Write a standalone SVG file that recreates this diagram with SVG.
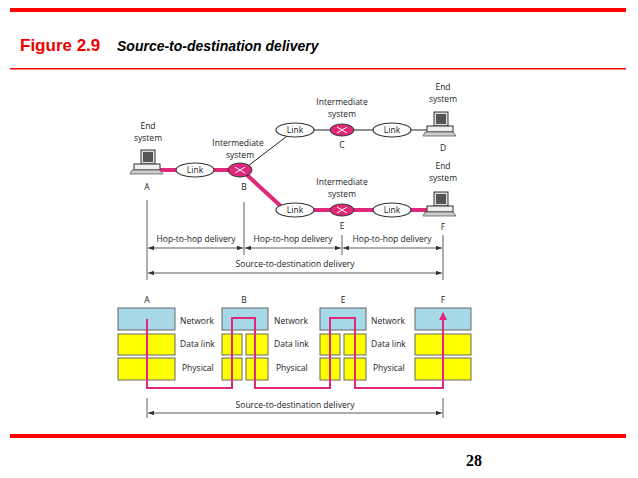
<svg xmlns="http://www.w3.org/2000/svg" width="638" height="478" viewBox="0 0 638 478">
<style>
text{font-family:"Open Sans","Liberation Sans",sans-serif;font-size:8.5px;fill:#222}
.m{text-anchor:middle}
.lk{fill:#fff;stroke:#333;stroke-width:1.2}
.rt{fill:#e0287a;stroke:#333;stroke-width:1}
.net{fill:#a6d8e8;stroke:#666}
.yl{fill:#ffff00;stroke:#666}
.dim{stroke:#333;stroke-width:0.8;fill:none}
#connectors path{fill:none}
</style>
<defs>
<marker id="ah" viewBox="0 0 8 6" refX="8" refY="3" markerWidth="8" markerHeight="6" orient="auto-start-reverse"><path d="M0,0L8,3L0,6z" fill="#333"/></marker>
<marker id="mh" viewBox="0 0 8 8" refX="7" refY="4" markerWidth="4" markerHeight="4" orient="auto"><path d="M0,0L8,4L0,8z" fill="#e0287a"/></marker>
<g id="pc"><rect x="-6" y="-22" width="14" height="14" fill="#ddd" stroke="#333"/><rect x="-4" y="-20" width="10" height="10" fill="#555"/><rect x="-13" y="-8" width="26" height="6" fill="#eee" stroke="#333"/><path d="M-15,-2h28l3,4h-33z" fill="#ccc" stroke="#333" stroke-width="0.6"/></g>
<g id="rx"><path d="M-5,-3L5,3M-5,3L5,-3" stroke="#fff" stroke-width="1"/></g>
</defs>
<rect width="638" height="478" fill="#fff"/>
<rect x="10" y="8" width="616" height="4" fill="#f00"/>
<rect x="10" y="68" width="616" height="1.5" fill="#f00"/>
<rect x="10" y="434" width="616" height="4" fill="#f00"/>
<text x="20" y="51" style="font-family:'Liberation Sans',sans-serif;font-size:17px;font-weight:bold;fill:#e00">Figure 2.9</text>
<text x="117" y="51" style="font-family:'Liberation Sans',sans-serif;font-size:14px;font-weight:bold;font-style:italic;fill:#000">Source-to-destination delivery</text>
<text x="466" y="466" style="font-family:'Liberation Serif',serif;font-size:16px;font-weight:bold;fill:#000">28</text>
<g id="connectors">
<path d="M160,170H232" stroke="#e0287a" stroke-width="4"/>
<path d="M248,166L295,130H430" stroke="#222" stroke-width="1"/>
<path d="M247,175L285,210H430" stroke="#e0287a" stroke-width="4"/>
<path d="M147,200V280M244,202V255M342,235V255M443,235V280" class="dim"/>
<path d="M148,248H243" class="dim" marker-start="url(#ah)" marker-end="url(#ah)"/>
<path d="M245,248H341" class="dim" marker-start="url(#ah)" marker-end="url(#ah)"/>
<path d="M343,248H442" class="dim" marker-start="url(#ah)" marker-end="url(#ah)"/>
<path d="M148,273H442" class="dim" marker-start="url(#ah)" marker-end="url(#ah)"/>
<path d="M147,398V418M443,398V418" class="dim"/>
<path d="M148,413H442" class="dim" marker-start="url(#ah)" marker-end="url(#ah)"/>
</g>
<g id="A"><use href="#pc" x="147" y="172"/><text class="m" x="148" y="129">End</text><text class="m" x="148" y="141">system</text><text class="m" x="147" y="190">A</text></g>
<g id="linkAB"><ellipse class="lk" cx="195" cy="170" rx="19" ry="7"/><text class="m" x="195" y="173">Link</text></g>
<g id="B"><ellipse class="rt" cx="240" cy="170" rx="12" ry="7"/><use href="#rx" x="240" y="170"/><text class="m" x="238" y="146">Intermediate</text><text class="m" x="240" y="158">system</text><text class="m" x="244" y="190">B</text></g>
<g id="linkBC"><ellipse class="lk" cx="295" cy="130" rx="19" ry="7"/><text class="m" x="295" y="133">Link</text></g>
<g id="C"><ellipse class="rt" cx="342" cy="130" rx="12" ry="6"/><use href="#rx" x="342" y="130"/><text class="m" x="342" y="105">Intermediate</text><text class="m" x="342" y="117">system</text><text class="m" x="342" y="148">C</text></g>
<g id="linkCD"><ellipse class="lk" cx="392" cy="130" rx="19" ry="7"/><text class="m" x="392" y="133">Link</text></g>
<g id="D"><use href="#pc" x="440" y="134"/><text class="m" x="443" y="90">End</text><text class="m" x="443" y="102">system</text><text class="m" x="443" y="151">D</text></g>
<g id="linkBE"><ellipse class="lk" cx="295" cy="210" rx="19" ry="7"/><text class="m" x="295" y="213">Link</text></g>
<g id="E"><ellipse class="rt" cx="342" cy="210" rx="12" ry="6"/><use href="#rx" x="342" y="210"/><text class="m" x="342" y="185">Intermediate</text><text class="m" x="342" y="197">system</text><text class="m" x="342" y="229">E</text></g>
<g id="linkEF"><ellipse class="lk" cx="392" cy="210" rx="19" ry="7"/><text class="m" x="392" y="213">Link</text></g>
<g id="F"><use href="#pc" x="440" y="214"/><text class="m" x="443" y="169">End</text><text class="m" x="443" y="181">system</text><text class="m" x="443" y="230">F</text></g>
<text class="m" x="196" y="242">Hop-to-hop delivery</text>
<text class="m" x="293" y="242">Hop-to-hop delivery</text>
<text class="m" x="392" y="242">Hop-to-hop delivery</text>
<text class="m" x="295" y="267">Source-to-destination delivery</text>
<g id="stackA"><rect class="net" x="118" y="308" width="57" height="22"/><rect class="yl" x="118" y="334" width="57" height="21"/><rect class="yl" x="118" y="358" width="57" height="22"/><text class="m" x="147" y="303">A</text></g>
<g id="stackB"><rect class="net" x="222" y="308" width="46" height="22"/><rect class="yl" x="222" y="334" width="20" height="21"/><rect class="yl" x="246" y="334" width="22" height="21"/><rect class="yl" x="222" y="358" width="20" height="22"/><rect class="yl" x="246" y="358" width="22" height="22"/><text class="m" x="244" y="303">B</text></g>
<g id="stackE"><rect class="net" x="320" y="308" width="46" height="22"/><rect class="yl" x="320" y="334" width="20" height="21"/><rect class="yl" x="344" y="334" width="22" height="21"/><rect class="yl" x="320" y="358" width="20" height="22"/><rect class="yl" x="344" y="358" width="22" height="22"/><text class="m" x="343" y="303">E</text></g>
<g id="stackF"><rect class="net" x="415" y="308" width="56" height="22"/><rect class="yl" x="415" y="334" width="56" height="21"/><rect class="yl" x="415" y="358" width="56" height="22"/><text class="m" x="443" y="303">F</text></g>
<g id="labels">
<text x="180" y="324">Network</text><text x="180" y="347">Data link</text><text x="182" y="371">Physical</text>
<text x="274" y="324">Network</text><text x="274" y="347">Data link</text><text x="276" y="371">Physical</text>
<text x="371" y="324">Network</text><text x="371" y="347">Data link</text><text x="373" y="371">Physical</text>
</g>
<path d="M147,319V388H232V318H255V388H330V318H355V388H443V313" fill="none" stroke="#e0287a" stroke-width="2" marker-end="url(#mh)"/>
<text class="m" x="295" y="408">Source-to-destination delivery</text>
</svg>
